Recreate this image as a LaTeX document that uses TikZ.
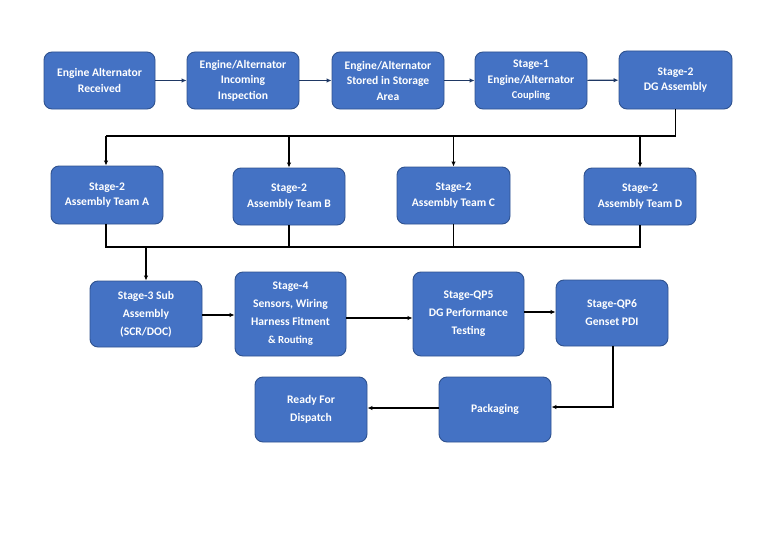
\documentclass[tikz,border=0pt]{standalone}
\usepackage{fontspec}
\setmainfont{Carlito}
\usetikzlibrary{arrows.meta}
\definecolor{boxfill}{HTML}{4472C4}
\definecolor{boxline}{HTML}{2F528F}
\definecolor{navy}{HTML}{1F3864}
\begin{document}
\begin{tikzpicture}[x=1pt,y=-1pt,
  box/.style={draw=boxline,line width=0.9pt,fill=boxfill,rounded corners=8pt,
    text=white,font=\bfseries\fontsize{11.6}{15.5}\selectfont,align=center,
    inner sep=0pt,minimum width=112pt,minimum height=57pt},
  tall/.style={font=\bfseries\fontsize{11.6}{18}\selectfont},
  toparrow/.style={draw=navy,line width=1.1pt,-{Latex[length=5pt,width=4.5pt]}},
  arr/.style={draw=black,line width=1.4pt,-{Latex[length=5pt,width=4.5pt]}},
  ln/.style={draw=black,line width=1.4pt}]
\useasboundingbox (0,0) rectangle (768,543);
% row 1
\node[box,minimum width=111pt] (b1) at (99.5,80.5) {Engine Alternator\\Received};
\node[box] (b2) at (243,80.5) {Engine/Alternator\\Incoming\\Inspection};
\node[box] (b3) at (388,80.5) {Engine/Alternator\\Stored in Storage\\Area};
\node[box] (b4) at (531,80.5) {Stage-1\\Engine/Alternator\\{\fontsize{10.5}{10}\selectfont Coupling}};
\node[box,minimum width=113pt,minimum height=58pt] (b5) at (675.5,80) {Stage-2\\DG Assembly};
% row 2
\node[box,minimum height=58pt] (ta) at (107,195) {Stage-2\\Assembly Team A};
\node[box] (tb) at (289,196.5) {Stage-2\\Assembly Team B};
\node[box,minimum width=113pt] (tc) at (453.5,195.5) {Stage-2\\Assembly Team C};
\node[box] (td) at (640,196.5) {Stage-2\\Assembly Team D};
% row 3
\node[box,tall,minimum height=66pt] (s3) at (146,314) {Stage-3 Sub\\Assembly\\(SCR/DOC)};
\node[box,tall,minimum width=111pt,minimum height=84pt] (s4) at (290.5,314) {Stage-4\\Sensors, Wiring\\Harness Fitment\\{\fontsize{10.8}{10}\selectfont \& Routing}};
\node[box,tall,minimum width=111pt,minimum height=84pt] (q5) at (468.5,314) {Stage-QP5\\DG Performance\\Testing};
\node[box,tall,minimum height=66pt] (q6) at (612,313) {Stage-QP6\\Genset PDI};
% row 4
\node[box,tall,minimum height=65pt] (rd) at (311,409.5) {Ready For\\Dispatch};
\node[box,tall,minimum height=65pt] (pk) at (495,409.5) {Packaging};
% row 1 arrows
\draw[toparrow] (b1) -- (b2);
\draw[toparrow] (b2) -- (b3);
\draw[toparrow] (b3) -- (b4);
\draw[toparrow] (b4) -- (b5);
% top bus
\coordinate (busL) at (106,136);
\coordinate (busR) at (b5.south |- busL);
\draw[ln] (b5.south) -- (busR) -- (busL);
\draw[arr] (busL) -- (busL |- ta.north);
\draw[arr] (tb.north |- busL) -- (tb.north);
\draw[arr] (tc.north |- busL) -- (tc.north);
\draw[arr] (td.north |- busL) -- (td.north);
% bottom bus
\coordinate (bbL) at (106,247);
\coordinate (bbR) at (td.south |- bbL);
\draw[ln] (bbL |- ta.south) -- (bbL) -- (bbR) -- (td.south);
\draw[ln] (tb.south) -- (tb.south |- bbL);
\draw[ln] (tc.south) -- (tc.south |- bbL);
\draw[arr] (s3.north |- bbL) -- (s3.north);
% row 3 arrows
\draw[arr] (s3.east |- 0,315) -- (s4.west |- 0,315);
\draw[arr] (s4.east |- 0,318) -- (q5.west |- 0,318);
\draw[arr] (q5.east |- 0,312) -- (q6.west |- 0,312);
\coordinate (turn) at (613,407);
\draw[arr] (q6.south -| turn) -- (turn) -- (pk.east |- turn);
\draw[arr] (pk.west |- 0,408) -- (rd.east |- 0,408);
\end{tikzpicture}
\end{document}
